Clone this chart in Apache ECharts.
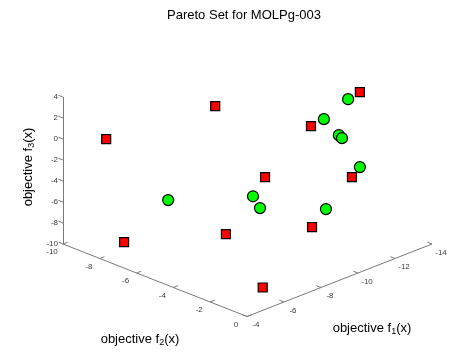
<!DOCTYPE html>
<html><head><meta charset="utf-8">
<script src="https://cdn.jsdelivr.net/npm/echarts@6/dist/echarts.min.js"></script>
<style>html,body{margin:0;padding:0;background:#fff}#c{width:474px;height:355px}</style>
</head><body><div id="c"></div>
<script>
// ---- data (objective values) ----
const redF1 = [-5.16, -8.22, -12.38, -10.88, -12.10, -9.74, -10.46, -8.37, -5.78, -6.42];
const redF2 = [-8.82, -5.97, -2.29, -3.44, -2.44, -4.79, -2.96, -5.54, -8.47, -1.58];
const redF3 = [0, 3, 4, 1, -4, -4, -8, -9, -10, -10];
const greenF1 = [-12.30, -10.99, -11.74, -11.62, -12.28, -8.82, -8.92, -11.36, -6.98];
const greenF2 = [-2.85, -2.85, -2.79, -2.50, -2.19, -4.52, -4.24, -3.11, -7.28];
const greenF3 = [3, 2, 0, 0, -3, -5, -6, -7, -6];
const f1Ticks = [-4, -6, -8, -10, -12, -14];
const f2Ticks = [-10, -8, -6, -4, -2, 0];
const f3Ticks = [-10, -8, -6, -4, -2, 0, 2, 4];
const titleText = 'Pareto Set for MOLPg-003';

// ---- view (projection of the 3-D box onto the page plane) ----
const F1A = -4, F2A = -10, F3A = -10;
const F1B = -14, F2B = 0, F3B = 4;
const O = [63, 244];
const E1 = [-18.5, 7.25];  // per unit of f1
const E2 = [18.4, 7.25];   // per unit of f2
const E3 = [0, -10.5];     // per unit of f3
function proj(f1, f2, f3) {
  const a = f1 - F1A, b = f2 - F2A, c = f3 - F3A;
  return [O[0] + a * E1[0] + b * E2[0] + c * E3[0],
          O[1] + a * E1[1] + b * E2[1] + c * E3[1]];
}

const axisLines = [
  {coords: [proj(F1A, F2A, F3A), proj(F1A, F2A, F3B)]},
  {coords: [proj(F1A, F2A, F3A), proj(F1A, F2B, F3A)]},
  {coords: [proj(F1A, F2B, F3A), proj(F1B, F2B, F3A)]}
];
const tickLen = 0.25;
const tickSegs = [];
f3Ticks.forEach(t => tickSegs.push({coords: [proj(F1A, F2A, t), proj(F1A, F2A - tickLen, t)]}));
f2Ticks.forEach(t => tickSegs.push({coords: [proj(F1A, t, F3A), proj(F1A - tickLen, t, F3A)]}));
f1Ticks.forEach(t => tickSegs.push({coords: [proj(t, F2B, F3A), proj(t, F2B - tickLen, F3A)]}));

const lbl = {fontFamily: 'Liberation Sans, Arial, sans-serif', fontSize: 8, color: '#000'};
const f3Lab = f3Ticks.map(t => ({value: proj(F1A, F2A, t), name: String(t)}));
const f2Lab = f2Ticks.map(t => ({value: proj(F1A, t, F3A), name: String(t)}));
const f1Lab = f1Ticks.map(t => ({value: proj(t, F2B, F3A), name: String(t)}));

const redPts = redF1.map((v, i) => proj(v, redF2[i], redF3[i]));
const greenPts = greenF1.map((v, i) => proj(v, greenF2[i], greenF3[i]));

const chart = echarts.init(document.getElementById('c'));
const ff = 'Liberation Sans, Arial, sans-serif';
const rich = {s: {fontFamily: ff, fontSize: 9, padding: [8, 0, 0, 0], fill: '#000'}};
chart.setOption({
  animation: false,
  backgroundColor: '#fff',
  grid: {left: 0, top: 0, right: 0, bottom: 0},
  xAxis: {type: 'value', min: 0, max: 474, show: false},
  yAxis: {type: 'value', min: 0, max: 355, inverse: true, show: false},
  series: [
    {type: 'lines', coordinateSystem: 'cartesian2d', data: axisLines, silent: true,
     lineStyle: {color: '#7a7a7a', width: 1, opacity: 1}},
    {type: 'lines', coordinateSystem: 'cartesian2d', data: tickSegs, silent: true,
     lineStyle: {color: '#7a7a7a', width: 1, opacity: 1}},
    {type: 'scatter', symbolSize: 0, data: f3Lab, silent: true,
     label: Object.assign({show: true, position: 'left', distance: 5, formatter: p => p.name}, lbl)},
    {type: 'scatter', symbolSize: 0, data: f2Lab, silent: true,
     label: Object.assign({show: true, position: 'inside', offset: [-11, 8], formatter: p => p.name}, lbl)},
    {type: 'scatter', symbolSize: 0, data: f1Lab, silent: true,
     label: Object.assign({show: true, position: 'inside', offset: [9, 8.5], formatter: p => p.name}, lbl)},
    {type: 'scatter', symbol: 'rect', symbolSize: 9, data: redPts,
     itemStyle: {color: '#ff0000', borderColor: '#000', borderWidth: 1.2, opacity: 1}},
    {type: 'scatter', symbol: 'circle', symbolSize: 11, data: greenPts,
     itemStyle: {color: '#00ff00', borderColor: '#000', borderWidth: 1.2, opacity: 1}}
  ],
  graphic: [
    {type: 'text', x: 244, y: 15, style: {text: titleText, font: '13px ' + ff, fill: '#000', align: 'center', verticalAlign: 'middle'}},
    {type: 'text', x: 140, y: 339, style: {text: 'objective f{s|2}(x)', rich: rich, font: '13px ' + ff, fill: '#000', align: 'center', verticalAlign: 'middle'}},
    {type: 'text', x: 372, y: 328, style: {text: 'objective f{s|1}(x)', rich: rich, font: '13px ' + ff, fill: '#000', align: 'center', verticalAlign: 'middle'}},
    {type: 'text', x: 28, y: 167, rotation: Math.PI / 2, style: {text: 'objective f{s|3}(x)', rich: rich, font: '13px ' + ff, fill: '#000', align: 'center', verticalAlign: 'middle'}}
  ]
});
</script>
</body></html>
